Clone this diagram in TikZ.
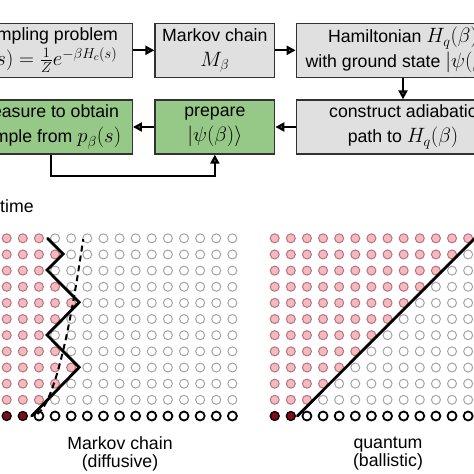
\documentclass[tikz,border=0pt]{standalone}
\usepackage[no-math]{fontspec}
\setmainfont{Liberation Sans}
\usetikzlibrary{arrows.meta}
\DeclareMathSizes{17.7}{19.8}{14}{11}
\definecolor{boxgray}{RGB}{224,224,224}
\definecolor{boxgreen}{RGB}{150,200,135}
\definecolor{pinkfill}{RGB}{245,185,192}
\definecolor{pinkline}{RGB}{185,115,122}
\definecolor{opengray}{RGB}{165,165,165}
\definecolor{darkred}{RGB}{130,10,25}
\definecolor{edgecol}{RGB}{50,50,50}
\begin{document}
\begin{tikzpicture}[x=1pt,y=-1pt,
  box/.style={draw=edgecol, line width=1.3pt, minimum height=54pt, inner sep=0pt, align=center, font=\fontsize{17.7}{25}\selectfont},
  graybox/.style={box, fill=boxgray},
  greenbox/.style={box, fill=boxgreen},
  arr/.style={line width=2.2pt, -{Triangle[length=9pt,width=9pt,fill=black!55]}},
  pinkdot/.style={draw=pinkline, fill=pinkfill, line width=1pt},
  opendot/.style={draw=opengray, fill=white, line width=1pt},
  blackdot/.style={draw=black, fill=white, line width=1.8pt},
  reddot/.style={draw=black, fill=darkred, line width=1.3pt},
  path/.style={line width=2.8pt, line cap=round, line join=miter},
  lbl/.style={inner sep=0pt, align=center, font=\fontsize{17.7}{18}\selectfont}
]
\useasboundingbox (0,0) rectangle (474,474);
\clip (0,0) rectangle (474,474);
\fill[white] (0,0) rectangle (474,474);

% flow chart
\node[graybox, minimum width=168.4pt] (b1) at (48.1,50.3) {sampling problem\\$p(s)=\frac{1}{Z}e^{-\beta H_c(s)}$};
\node[graybox, minimum width=119.7pt] (b2) at (214.85,50.3) {Markov chain\\$M_\beta$};
\node[graybox, minimum width=213.4pt] (b3) at (403,50.3) {Hamiltonian $H_q(\beta)$\\with ground state $|\psi(\beta)\rangle$};
\node[graybox, minimum width=213.4pt] (b4) at (403,127) {construct adiabatic\\path to $H_q(\beta)$};
\node[greenbox, minimum width=119.7pt] (b5) at (214.85,127) {prepare\\$|\psi(\beta)\rangle$};
\node[greenbox, minimum width=168.4pt] (b6) at (48.1,127) {measure to obtain\\sample from $p_\beta(s)$};

\draw[arr] (b1) -- (b2);
\draw[arr] (b2) -- (b3);
\draw[arr] (b3) -- (b4);
\draw[arr] (b4) -- (b5);
\draw[arr] (b5) -- (b6);
\draw[arr] ([xshift=3pt]b6.south) -- ++(0,21) -| (b5.south);

\node[anchor=base west, inner sep=0pt, font=\fontsize{17.7}{20}\selectfont] (timelabel) at (0,212.3) {time};

% left panel: Markov chain
\foreach \r/\n in {0/3,1/4,2/3,3/4,4/5,5/4,6/3,7/4,8/5,9/4,10/3}{
  \foreach \c in {0,...,14}{
    \ifnum\c<\n
      \draw[pinkdot] ({6.7+16.12*\c},{238.3+16.15*\r}) circle[radius=4.5pt];
    \else
      \draw[opendot] ({6.7+16.12*\c},{238.3+16.15*\r}) circle[radius=4.5pt];
    \fi
  }
}
\foreach \c in {0,1} \draw[reddot] ({6.7+16.12*\c},416) circle[radius=4.5pt];
\foreach \c in {2,...,14} \draw[blackdot] ({6.7+16.12*\c},416) circle[radius=4.5pt];

% right panel: quantum
\foreach \r in {0,...,10}{
  \pgfmathtruncatemacro\n{13-\r}
  \foreach \c in {0,...,14}{
    \ifnum\c<\n
      \draw[pinkdot] ({274.7+16.12*\c},{238.3+16.15*\r}) circle[radius=4.5pt];
    \else
      \draw[opendot] ({274.7+16.12*\c},{238.3+16.15*\r}) circle[radius=4.5pt];
    \fi
  }
}
\foreach \c in {0,1} \draw[reddot] ({274.7+16.12*\c},416) circle[radius=4.5pt];
\foreach \c in {2,...,14} \draw[blackdot] ({274.7+16.12*\c},416) circle[radius=4.5pt];

% trajectories
\draw[line width=2pt, dash pattern=on 6pt off 4pt] plot[domain=2:177, samples=60, smooth] ({32+3.85*sqrt(\x)},{416-\x});
\draw[path] (31.7,416) -- (79.2,367.3) -- (47,335) -- (79.2,302.3) -- (47,270) -- (63.1,254) -- (47.5,238.3);
\draw[path] (297.3,416) -- (497,216);

\node[lbl] (lab1) at (120,453.5) {Markov chain\\(diffusive)};
\node[lbl] (lab2) at (388,453.5) {quantum\\(ballistic)};
\end{tikzpicture}
\end{document}
